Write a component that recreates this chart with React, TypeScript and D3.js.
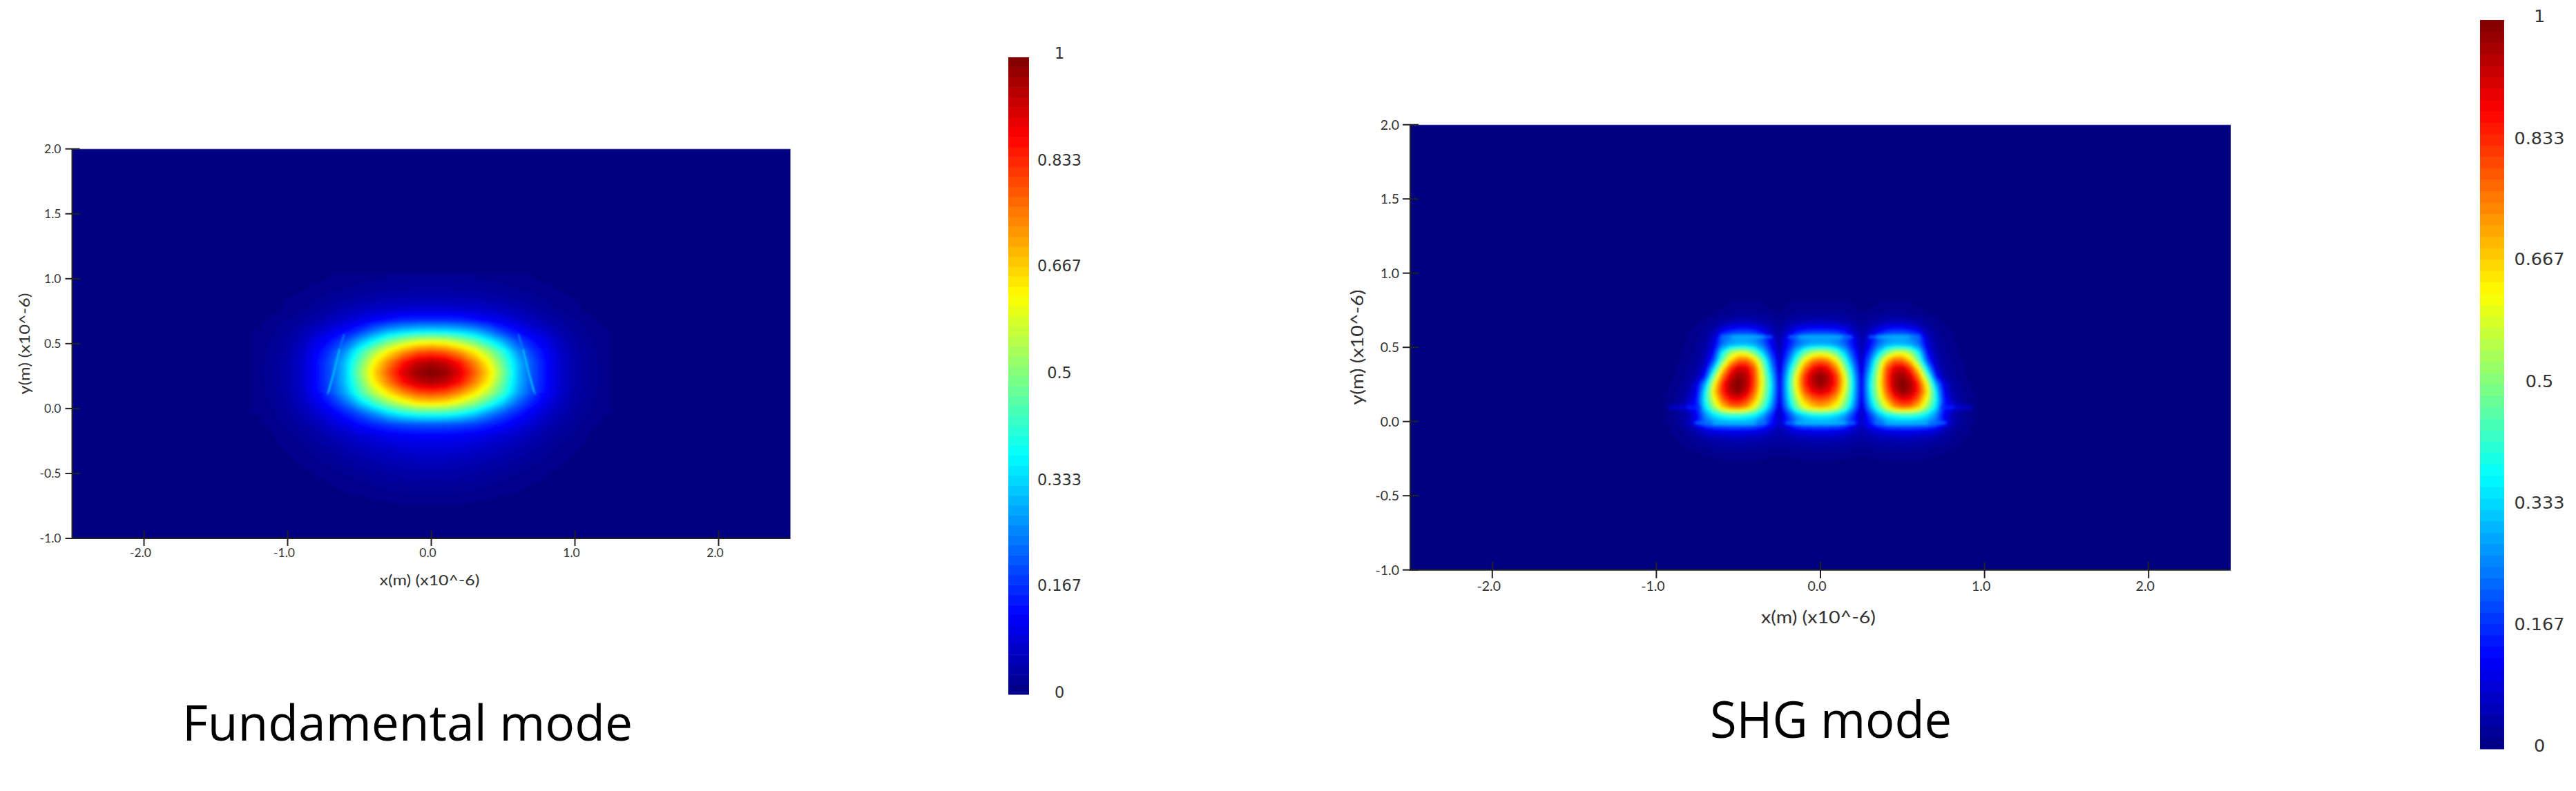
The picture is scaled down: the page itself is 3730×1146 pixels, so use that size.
import React from "react";
import * as d3 from "d3";

// ---------- data ----------
const xTickValues = [-2, -1, 0, 1, 2];
const yTickValues = [2, 1.5, 1, 0.5, 0, -0.5, -1];
const barLabels = ["0", "0.167", "0.333", "0.5", "0.667", "0.833", "1"];
const xAxisTitle = "x(m) (x10^-6)";
const yAxisTitle = "y(m) (x10^-6)";

// Fundamental mode: columns are x = 0, 0.1 ... 1.2 (mirrored about x = 0); rows run from y = 1.0 down in steps of 0.08.
const fundamentalRows = [
  [.02,.02,.018,.016,.014,.012,.01,.008,.006,.004,.003,.002,.001],
  [.03,.03,.028,.026,.023,.02,.016,.013,.01,.007,.005,.003,.002],
  [.05,.05,.048,.044,.04,.034,.028,.022,.016,.011,.008,.005,.003],
  [.085,.085,.082,.078,.072,.062,.048,.034,.024,.015,.01,.006,.004],
  [.165,.165,.16,.14,.12,.10,.08,.06,.04,.027,.017,.01,.006],
  [.34,.34,.32,.29,.235,.17,.125,.095,.07,.043,.025,.014,.008],
  [.60,.585,.535,.47,.38,.29,.20,.14,.10,.058,.032,.018,.01],
  [.80,.78,.72,.635,.53,.41,.27,.18,.12,.07,.037,.02,.011],
  [.95,.925,.85,.74,.62,.465,.315,.205,.13,.075,.04,.022,.012],
  [1,.98,.905,.79,.66,.50,.32,.205,.13,.075,.04,.022,.012],
  [.955,.93,.86,.75,.63,.47,.315,.205,.13,.075,.04,.022,.012],
  [.815,.795,.735,.65,.55,.43,.29,.195,.125,.072,.038,.02,.011],
  [.65,.635,.58,.51,.42,.32,.22,.15,.10,.06,.032,.018,.01],
  [.41,.405,.38,.33,.26,.20,.15,.11,.075,.048,.027,.015,.008],
  [.215,.21,.20,.185,.16,.135,.105,.08,.05,.033,.02,.011,.006],
  [.125,.125,.12,.112,.10,.087,.07,.052,.036,.023,.014,.008,.004],
  [.095,.095,.09,.083,.073,.062,.05,.037,.025,.016,.01,.006,.003],
  [.07,.07,.066,.06,.053,.044,.034,.025,.017,.011,.007,.004,.002],
  [.05,.05,.047,.042,.036,.03,.023,.017,.012,.008,.005,.003,.001],
  [.035,.035,.032,.029,.025,.02,.015,.011,.008,.005,.003,.002,.001],
  [.022,.022,.02,.018,.015,.012,.01,.007,.005,.003,.002,.001,0],
  [.013,.013,.012,.011,.009,.007,.006,.004,.003,.002,.001,0,0],
  [.006,.006,.006,.005,.004,.004,.003,.002,.001,.001,0,0,0],
];

// SHG mode: columns are x = 0, 0.05 ... 1.0 (mirrored about x = 0); rows run from y = 0.781 down in steps of 0.0527.
const shgRows = [
  [.01,.01,.01,.01,.008,.005,.006,.008,.01,.01,.01,.008,.006,.004,.002,0,0,0,0,0,0],
  [.02,.02,.02,.018,.012,.008,.012,.016,.02,.02,.02,.016,.012,.008,.005,.003,0,0,0,0,0],
  [.05,.05,.045,.04,.03,.015,.025,.035,.045,.05,.05,.04,.03,.02,.012,.007,.004,.002,0,0,0],
  [.14,.135,.125,.10,.06,.025,.05,.09,.125,.14,.14,.12,.085,.04,.02,.012,.007,.004,.002,0,0],
  [.26,.26,.25,.20,.11,.035,.09,.19,.25,.27,.27,.25,.20,.07,.03,.015,.009,.005,.003,.001,0],
  [.30,.30,.27,.22,.13,.04,.12,.23,.29,.31,.31,.29,.24,.09,.035,.018,.01,.006,.003,.002,0],
  [.58,.55,.46,.32,.17,.05,.17,.33,.48,.58,.60,.53,.37,.13,.045,.022,.012,.007,.004,.002,.001],
  [.78,.74,.62,.42,.22,.06,.23,.46,.67,.78,.77,.66,.46,.19,.06,.028,.015,.009,.005,.003,.001],
  [.92,.87,.74,.52,.28,.07,.28,.53,.78,.90,.92,.82,.62,.33,.09,.035,.019,.011,.006,.003,.002],
  [.99,.94,.82,.60,.33,.085,.33,.57,.80,.95,.98,.91,.74,.48,.15,.045,.024,.013,.007,.004,.002],
  [.99,.94,.83,.62,.35,.09,.36,.58,.80,.95,1,.96,.83,.60,.30,.10,.035,.017,.009,.005,.003],
  [.92,.88,.78,.59,.34,.09,.35,.56,.77,.92,.99,.95,.84,.65,.38,.12,.045,.022,.011,.006,.003],
  [.80,.77,.69,.53,.32,.085,.32,.52,.70,.83,.89,.87,.77,.60,.40,.15,.06,.028,.014,.007,.004],
  [.70,.67,.60,.46,.27,.07,.27,.44,.60,.72,.77,.75,.67,.52,.36,.16,.10,.05,.02,.008,.004],
  [.38,.37,.34,.28,.17,.055,.17,.29,.37,.40,.42,.42,.40,.35,.27,.12,.05,.025,.012,.006,.003],
  [.28,.28,.27,.23,.14,.07,.14,.22,.27,.29,.29,.29,.28,.27,.23,.14,.06,.025,.012,.007,.003],
  [.11,.11,.105,.095,.07,.045,.07,.09,.105,.11,.115,.115,.11,.10,.085,.05,.03,.016,.009,.005,.002],
  [.055,.055,.05,.045,.04,.03,.04,.045,.05,.055,.055,.055,.05,.045,.038,.028,.018,.01,.006,.003,.002],
  [.028,.028,.026,.024,.02,.017,.02,.024,.026,.028,.028,.028,.026,.022,.018,.014,.01,.006,.004,.002,.001],
  [.013,.013,.012,.012,.01,.009,.01,.012,.012,.013,.013,.013,.012,.011,.009,.007,.005,.003,.002,.001,0],
  [.006,.006,.006,.005,.005,.004,.005,.006,.006,.006,.006,.006,.006,.005,.004,.003,.002,.001,0,0,0],
];

// Thin bright waveguide-edge features: [x, y, value] points, right-hand ones (mirrored about x = 0).
const fundamentalRidges = [
  [[.607,.569,.18],[.64,.45,.29],[.68,.27,.32],[.715,.13,.30],[.727,.108,.22]],
  [[.727,.108,.18],[.76,.108,.13],[.80,.108,.09]],
];
const shgRidges = [
  [[0,.57,.31],[.14,.57,.30],[.19,.57,.18]],
  [[.30,.57,.17],[.35,.57,.30],[.55,.57,.31],[.60,.57,.18]],
  [[0,-.01,.32],[.16,-.01,.31],[.21,-.01,.18]],
  [[.33,-.01,.18],[.40,-.01,.31],[.66,-.01,.30],[.76,-.01,.17]],
  [[.74,.095,.19],[.82,.095,.13],[.92,.095,.05]],
];

const jetStops = [0, 0.125, 0.375, 0.625, 0.875, 1];
const jetColors = ["#000080", "#0000ff", "#00ffff", "#ffff00", "#ff0000", "#800000"];
const bandCount = 64;

const jet = d3.scaleLinear<string>().domain(jetStops).range(jetColors).clamp(true);

type PanelSpec = any;

const panels: PanelSpec[] = [
  {
    id: "fund",
    frame: { left: 104.5, right: 1144.5, top: 215.7, bottom: 780 },
    rows: fundamentalRows, colStep: 0.1, rowTop: 1.0, rowStep: 0.08,
    ridges: fundamentalRidges, ridgeWidth: 2.5, ridgeBlur: 1.1,
    tickFont: 17.5, titleFont: 22, tickHalf: 11, xTickBaseline: 807,
    xTitle: { x: 622, y: 848, len: 145 },
    yTitle: { x: 43, y: 498, len: 147 },
    bar: { left: 1460, right: 1490, top: 83, bottom: 1006, labelTop: 77, labelBottom: 1003, labelX: 1534, font: 22.4 },
    caption: { text: "Fundamental mode", x: 590, y: 1073, len: 652, font: 72 },
  },
  {
    id: "shg",
    frame: { left: 2042, right: 3230, top: 180.7, bottom: 825.7 },
    rows: shgRows, colStep: 0.05, rowTop: 0.781, rowStep: 0.0527,
    ridges: shgRidges, ridgeWidth: 3.5, ridgeBlur: 2,
    tickFont: 19.5, titleFont: 25, tickHalf: 12, xTickBaseline: 856,
    xTitle: { x: 2633, y: 903, len: 166 },
    yTitle: { x: 1974, y: 503, len: 167 },
    bar: { left: 3591, right: 3626, top: 29, bottom: 1085, labelTop: 23, labelBottom: 1080, labelX: 3677, font: 25.5 },
    caption: { text: "SHG mode", x: 2651, y: 1069, len: 350, font: 74 },
  },
];

const thresholds = d3.range(1, 128).map((k) => k / 128);

function Panel({ p }: { p: PanelSpec }) {
  const f = p.frame;
  const x = d3.scaleLinear().domain([-2.5, 2.5]).range([f.left, f.right]);
  const y = d3.scaleLinear().domain([-1, 2]).range([f.bottom, f.top]);

  const full = p.rows.map((r: number[]) => [...r.slice(1).reverse(), ...r]);
  const nx = full[0].length;
  const ny = full.length;
  const xMin = -(p.rows[0].length - 1) * p.colStep;
  const contours = d3.contours().size([nx, ny]).thresholds(thresholds)(full.flat());
  const path = d3.geoPath(
    d3.geoTransform({
      point(gx: number, gy: number) {
        (this as any).stream.point(x(xMin + (gx - 0.5) * p.colStep), y(p.rowTop - (gy - 0.5) * p.rowStep));
      },
    })
  );

  const ridgeSegments: { d: string; c: string; key: string }[] = [];
  p.ridges.forEach((ridge: number[][], ri: number) => {
    [1, -1].forEach((sign) => {
      ridge.slice(1).forEach((pt, i) => {
        const a = ridge[i];
        const mid = (a[2] + pt[2]) / 2;
        ridgeSegments.push({
          key: `${ri}-${sign}-${i}`,
          d: `M${x(sign * a[0])},${y(a[1])}L${x(sign * pt[0])},${y(pt[1])}`,
          c: jet(mid),
        });
      });
    });
  });

  const b = p.bar;
  const barScale = d3.scaleLinear().domain([0, 1]).range([b.bottom, b.top]);
  const labelScale = d3.scaleLinear().domain([0, 1]).range([b.labelBottom, b.labelTop]);
  const bands = d3.range(bandCount);
  const tickFontFamily = "Lato, 'Open Sans', sans-serif";

  return (
    <g>
      <defs>
        <clipPath id={`clip-${p.id}`}>
          <rect x={f.left} y={f.top} width={f.right - f.left} height={f.bottom - f.top} />
        </clipPath>
        <filter id={`soft-${p.id}`} x={f.left - 20} y={f.top - 20} width={f.right - f.left + 40} height={f.bottom - f.top + 40} filterUnits="userSpaceOnUse">
          <feGaussianBlur stdDeviation={2.2} />
        </filter>
        <filter id={`ridge-${p.id}`} x={f.left - 20} y={f.top - 20} width={f.right - f.left + 40} height={f.bottom - f.top + 40} filterUnits="userSpaceOnUse">
          <feGaussianBlur stdDeviation={p.ridgeBlur} />
        </filter>
      </defs>

      <rect x={f.left} y={f.top} width={f.right - f.left} height={f.bottom - f.top} fill={jet(0)} />
      <g clipPath={`url(#clip-${p.id})`}>
        <g filter={`url(#soft-${p.id})`}>
          {contours.map((c) => (
            <path key={c.value} d={path(c as any) || ""} fill={jet(c.value + 1 / 256)} />
          ))}
        </g>
        <g filter={`url(#ridge-${p.id})`} fill="none" strokeWidth={p.ridgeWidth} strokeLinecap="round">
          {ridgeSegments.map((s) => (
            <path key={s.key} d={s.d} stroke={s.c} />
          ))}
        </g>
      </g>

      <line x1={f.left} x2={f.right} y1={f.top} y2={f.top} stroke="#c8c8e0" strokeWidth={1} />
      <line x1={f.left} x2={f.left} y1={f.top} y2={f.bottom + 1} stroke="#222" strokeWidth={2} />
      <line x1={f.left} x2={f.right} y1={f.bottom} y2={f.bottom} stroke="#222" strokeWidth={2} />

      {yTickValues.map((v) => (
        <g key={`y${v}`}>
          <line x1={f.left - p.tickHalf + 1} x2={f.left + p.tickHalf} y1={y(v)} y2={y(v)} stroke="#222" strokeWidth={2} />
          <text x={f.left - 16} y={y(v)} dy="0.36em" textAnchor="end" fontSize={p.tickFont} fontFamily={tickFontFamily} fill="#333">
            {v.toFixed(1)}
          </text>
        </g>
      ))}
      {xTickValues.map((v) => (
        <g key={`x${v}`}>
          <line x1={x(v)} x2={x(v)} y1={f.bottom - p.tickHalf} y2={f.bottom + p.tickHalf} stroke="#222" strokeWidth={2} />
          <text x={x(v) - 5} y={p.xTickBaseline} textAnchor="middle" fontSize={p.tickFont} fontFamily={tickFontFamily} fill="#333">
            {v.toFixed(1)}
          </text>
        </g>
      ))}
      <text x={p.xTitle.x} y={p.xTitle.y} textAnchor="middle" fontSize={p.titleFont} fontFamily={tickFontFamily} fill="#333" textLength={p.xTitle.len} lengthAdjust="spacingAndGlyphs">
        {xAxisTitle}
      </text>
      <text transform={`translate(${p.yTitle.x},${p.yTitle.y}) rotate(-90)`} textAnchor="middle" fontSize={p.titleFont} fontFamily={tickFontFamily} fill="#333" textLength={p.yTitle.len} lengthAdjust="spacingAndGlyphs">
        {yAxisTitle}
      </text>

      {bands.map((i) => (
        <rect
          key={i}
          x={b.left}
          width={b.right - b.left}
          y={barScale((i + 1) / bandCount)}
          height={barScale(i / bandCount) - barScale((i + 1) / bandCount) + 0.5}
          fill={jet((i + 0.5) / bandCount)}
        />
      ))}
      {barLabels.map((l) => (
        <text key={l} x={b.labelX} y={labelScale(+l)} dy="0.36em" textAnchor="middle" fontSize={b.font} fontFamily="'DejaVu Sans', sans-serif" fill="#333">
          {l}
        </text>
      ))}
      <text x={p.caption.x} y={p.caption.y} textAnchor="middle" fontSize={p.caption.font} fontFamily="'Open Sans', sans-serif" fill="#000" textLength={p.caption.len} lengthAdjust="spacingAndGlyphs">
        {p.caption.text}
      </text>
    </g>
  );
}

export default function App() {
  return (
    <svg width={3730} height={1146} viewBox="0 0 3730 1146" style={{ position: "absolute", left: 0, top: 0, background: "#fff" }}>
      {panels.map((p) => (
        <Panel key={p.id} p={p} />
      ))}
    </svg>
  );
}
